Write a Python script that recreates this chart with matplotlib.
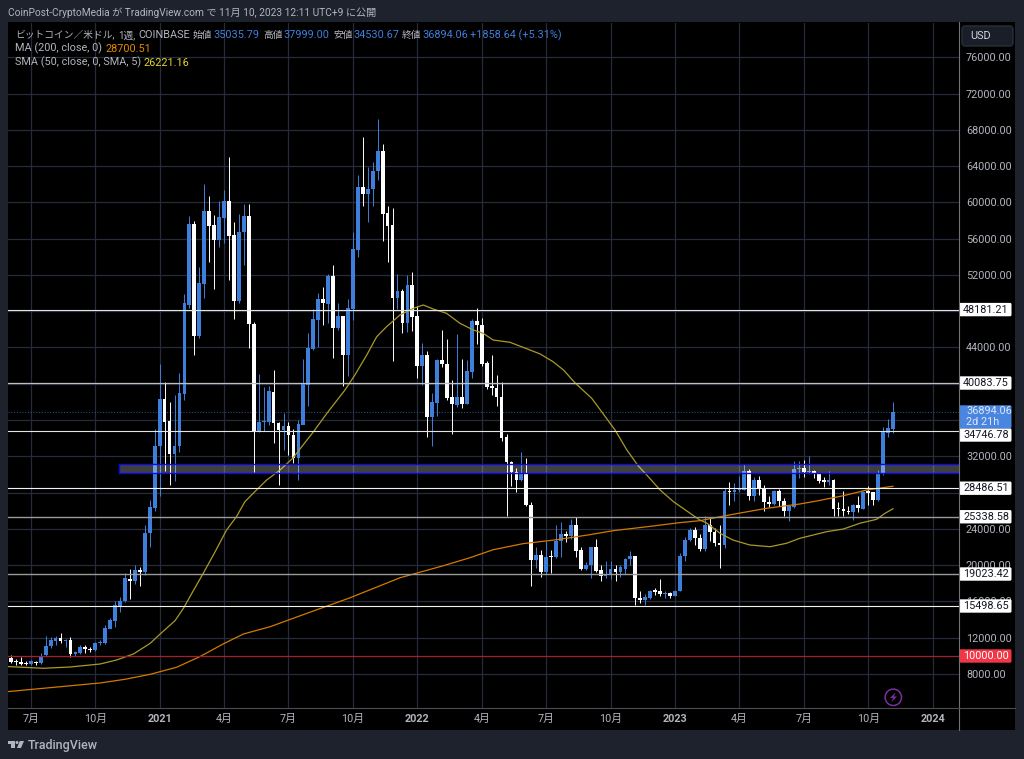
import numpy as np
import matplotlib
matplotlib.use('Agg')
import matplotlib.pyplot as plt
from matplotlib.patches import Rectangle, Polygon, Circle, FancyBboxPatch

plt.rcParams['font.family'] = ['Roboto', 'Noto Sans CJK JP', 'DejaVu Sans']

# weekly candles (week index 0 = Jun 8 2020)
opens = [9810, 9460, 9360, 9250, 9100, 9350, 9200, 10050, 11050, 11650,
         11950, 11650, 11750, 10250, 10320, 11000, 10800, 10650, 11400, 11450,
         13000, 13790, 15530, 16000, 18430, 18200, 19450, 19200, 23550, 26270,
         33100, 38280, 35900, 32300, 33120, 38860, 48660, 57650, 45240, 51000,
         59090, 57470, 55890, 58300, 60120, 56400, 49110, 56700, 58460, 46560,
         34770, 35800, 35810, 39100, 35690, 34850, 35320, 34330, 31790, 35470,
         39860, 43800, 47040, 49400, 48850, 51900, 46100, 47420, 43170, 48300,
         54710, 61670, 60950, 61450, 63430, 65640, 58830, 57470, 49510, 50180,
         46720, 50910, 47420, 41970, 43170, 36320, 37910, 42590, 42180, 38490,
         37690, 38490, 37760, 41340, 46930, 46490, 42260, 39750, 39570, 38570,
         34080, 31350, 30320, 29440, 30000, 26670, 20600, 21070, 19300, 20960,
         20850, 22620, 23440, 23170, 24390, 21620, 19570, 20010, 21960, 19420,
         18830, 19000, 19570, 19270, 19570, 20680, 21000, 16400, 16210, 16400,
         17250, 17140, 16830, 16950, 16620, 17140, 20960, 22730, 23840, 22990,
         21810, 24390, 23650, 22480, 22180, 28220, 28030, 28330, 28330, 30430,
         27670, 29360, 28530, 27010, 26760, 28150, 27120, 25930, 26420, 30620,
         30750, 30270, 30400, 30100, 29360, 29160, 29360, 26300, 26190, 25990,
         25850, 26670, 26230, 28150, 28040, 27170, 30100, 34600, 35035.79]
highs = [10100, 9700, 9840, 9400, 9500, 9450, 10300, 12200, 12100, 12150,
         12530, 11900, 12100, 10500, 11200, 11150, 10950, 11500, 11700, 13450,
         14200, 16050, 16540, 19150, 19600, 20000, 19850, 24450, 27230, 34960,
         42150, 40190, 37980, 38720, 41150, 49900, 58460, 58000, 52830, 62030,
         60740, 58600, 60190, 61370, 65020, 57800, 58720, 59820, 59820, 46820,
         41040, 39600, 39750, 41480, 35800, 36800, 35800, 35000, 36000, 42700,
         45570, 48220, 49960, 50620, 52050, 53080, 48960, 47500, 49400, 56700,
         63060, 67190, 63880, 64500, 69200, 66450, 59640, 59340, 52090, 50500,
         52000, 52280, 48600, 44540, 43620, 39000, 42780, 45940, 44900, 40380,
         45540, 42780, 42590, 47100, 48400, 47300, 42500, 43170, 40930, 40190,
         34410, 31500, 30730, 32500, 31840, 26970, 21950, 21620, 22620, 21700,
         24390, 24760, 23810, 25130, 25300, 22000, 20300, 22000, 22880, 19970,
         20410, 20490, 20040, 20040, 20750, 21510, 21050, 17100, 16840, 17250,
         17470, 18470, 17100, 17050, 17250, 21330, 23100, 24050, 24250, 23470,
         25380, 25300, 24100, 24460, 28530, 29140, 29070, 29800, 31100, 30620,
         29700, 29880, 28880, 27670, 28300, 28440, 27380, 26550, 31540, 31460,
         31650, 32020, 30450, 30150, 29700, 30360, 29500, 26950, 28220, 26490,
         26700, 27600, 28200, 28770, 28100, 30470, 35270, 36070, 37999.00]
lows = [9200, 8960, 8960, 8950, 9000, 9000, 9150, 9950, 10900, 11250,
        11450, 11000, 9870, 9950, 10200, 10280, 10450, 10500, 11150, 11350,
        13200, 13230, 14860, 15950, 16300, 17900, 17650, 18900, 21950, 25930,
        27670, 30350, 28880, 29250, 32450, 38200, 48400, 43140, 45000, 49500,
        53380, 50500, 55040, 55510, 51460, 47120, 48900, 53080, 43950, 30250,
        34700, 34770, 35400, 33490, 28880, 32750, 32200, 31280, 29440, 37800,
        37500, 43700, 44100, 46450, 46750, 42880, 45900, 39750, 40850, 47040,
        54000, 59640, 57870, 59640, 62480, 55770, 53450, 42500, 48200, 45650,
        45700, 45800, 40680, 39820, 34150, 33120, 36430, 41850, 38200, 34490,
        37470, 37280, 37800, 40600, 44350, 41950, 39380, 38720, 37540, 33730,
        25380, 28700, 28080, 29300, 26500, 17650, 19680, 18690, 19000, 19130,
        20750, 20850, 22550, 22880, 20850, 19500, 19450, 18570, 19300, 18200,
        18570, 18470, 18200, 18750, 19050, 20040, 15620, 15880, 15620, 16300,
        16730, 16620, 16360, 16430, 16560, 17100, 20490, 22620, 22250, 21510,
        21510, 22620, 22090, 19680, 21840, 26670, 27040, 28100, 28250, 27230,
        27040, 27780, 25930, 26420, 26600, 26490, 25460, 24830, 26300, 29640,
        29730, 30000, 29640, 29100, 28580, 28880, 25460, 25450, 25380, 25600,
        25000, 25820, 26150, 26670, 26670, 27100, 29950, 34150, 34530.67]
closes = [9330, 9300, 9140, 9110, 9400, 9200, 9950, 11100, 11700, 12000,
          11650, 11800, 10230, 10430, 11020, 10780, 10600, 11400, 11550, 13100,
          13900, 15580, 16030, 18540, 18210, 19450, 19200, 23500, 26380, 33190,
          38280, 35800, 32300, 33190, 38940, 48880, 57650, 45270, 51100, 59090,
          57430, 55890, 58360, 60190, 56320, 49140, 56760, 58460, 46560, 34770,
          35810, 35870, 39190, 35690, 34850, 35320, 34330, 31790, 35510, 39940,
          43910, 47120, 49400, 48880, 51900, 46100, 47420, 43170, 48410, 54850,
          61670, 60930, 61480, 63500, 65640, 58750, 57430, 49510, 50180, 46750,
          50910, 47370, 41970, 43170, 36320, 37980, 42590, 42150, 38420, 37720,
          38490, 37790, 41370, 46930, 46450, 42220, 39680, 39490, 38530, 34040,
          31350, 30320, 29440, 30000, 26600, 20600, 21070, 19300, 20890, 20850,
          22700, 23440, 23170, 24390, 21590, 19570, 20040, 21960, 19380, 18830,
          19050, 19570, 19270, 19750, 20710, 20960, 16360, 16210, 16510, 17200,
          17030, 16770, 16940, 16620, 17200, 21000, 22800, 23910, 22990, 21810,
          24390, 23610, 22440, 22250, 28220, 28030, 28330, 28440, 30430, 27670,
          29360, 28440, 26940, 26760, 28220, 27120, 25930, 26490, 30620, 30750,
          30270, 30400, 30180, 29250, 29160, 29360, 26190, 26190, 25930, 25880,
          26670, 26270, 28110, 27960, 27230, 30180, 34670, 35090, 36894.06]

sma_x = [-1, 6.5, 11.9, 18, 21.3, 24.7, 28.1, 30.1, 33.1, 34.8, 36.5, 38.8, 41.2, 43.5,
         45.5, 47.2, 49.2, 51.6, 54.3, 56.9, 61, 63.8, 67.4, 69.4, 71.8, 73.8, 75.8, 78.5,
         81.2, 83.2, 85.2, 87.9, 90.6, 93.3, 95.3, 97.3, 100.7, 103.7, 106.8, 109.4, 111.5,
         113.8, 117.2, 119.2, 121.9, 124.3, 126.6, 128.3, 131, 133.7, 136.4, 139, 140.4,
         143.1, 145.7, 149.1, 153.2, 156.5, 159.2, 164.6, 168, 171.3, 174.7, 176.4, 178]
sma_y = [8830, 8630, 8772, 9103, 9544, 10205, 11385, 12410, 13877, 15244, 16898, 19103, 21485, 23877,
         25344, 26998, 28100, 29390, 30493, 31816, 34683, 36778, 39314, 40967, 43173, 45190, 46293, 47583,
         48321, 48686, 48245, 47771, 46668, 45929, 45566, 44827, 44573, 43945, 43283, 42434, 41519,
         40119, 38398, 36921, 34903, 32698, 30934, 29942, 28288, 26998, 25972, 24980, 24649,
         23513, 22775, 22224, 22036, 22411, 22962, 23690, 23988, 24616, 25057, 25719, 26221.16]
ma_x = [-1, 18, 23, 28.1, 33.4, 38.1, 42.8, 46.9, 52.3, 58.3, 68.4, 78.5, 87.2, 92.6, 97.3, 103.3,
        110.2, 116.8, 121.5, 128.4, 135, 139, 145.7, 152.5, 159.2, 162.6, 168, 172.7, 178]
ma_y = [6040, 7010, 7416, 7967, 8739, 9908, 11308, 12410, 13215, 14410, 16400, 18610, 19930, 20820, 21700, 22370,
        22810, 23360, 23800, 24240, 24690, 24903, 25608, 26270, 26744, 27075, 27660, 28288, 28700.51]

level_prices = [48181.21, 40083.75, 34746.78, 28486.51, 25338.58, 19023.42, 15498.65]
level_colors = ['#e4e4e4', '#c0c0c0', '#e4e4e4', '#f2f2f2', '#9a9a9a', '#9a9a9a', '#f2f2f2']
level_widths = [0.8, 0.9, 0.8, 0.8, 1.0, 1.0, 0.8]
label_prices = [48181.21, 40083.75, 34352, 28486.51, 25338.58, 19023.42, 15498.65]
price_ticks = list(range(8000, 80000, 4000))
covered_ticks = [28000, 36000, 40000, 48000]  # hidden behind the price boxes
time_ticks = [4, 17, 30, 43, 56, 69, 82, 95, 108, 121, 134, 147, 160, 173, 186]
time_labels = ['7月', '10月', '2021', '4月', '7月', '10月', '2022', '4月', '7月', '10月',
               '2023', '4月', '7月', '10月', '2024']

W, H = 1024, 759
BG = '#1e222d'
UP = '#3f7fdc'
DOWN = '#ffffff'
TXT = '#b2b5be'
GRID = '#262a3a'
FS = 7.8
FS_JP = 7

fig = plt.figure(figsize=(W / 100, H / 100), dpi=100, facecolor=BG)


def px_axes(zorder):
    a = fig.add_axes([0, 0, 1, 1], zorder=zorder)
    a.set_xlim(0, W)
    a.set_ylim(H, 0)
    a.axis('off')
    return a


back = px_axes(0)
back.add_patch(Rectangle((8, 22), 1007, 708, fc='black', ec='none'))

# main chart, bars are 4.955 px apart and 4000 USD is 36.27 px
L, R, T, B = 8, 959, 23, 708
ax = fig.add_axes([L / W, 1 - B / H, (R - L) / W, (B - T) / H], zorder=1)
ax.patch.set_alpha(0)
ax.set_xlim((L - 11) / 4.955, (R - 11) / 4.955)
ax.set_ylim(8000 + (674 - B) * 110.26, 8000 + (674 - T) * 110.26)
for s in ax.spines.values():
    s.set_visible(False)

ax.set_yticks(price_ticks, ['' if p in covered_ticks else f'{p:.2f}' for p in price_ticks])
ax.yaxis.tick_right()
ax.set_xticks(time_ticks, time_labels)
ax.tick_params(length=0, colors=TXT, labelsize=FS)
ax.tick_params(axis='y', pad=5)
ax.tick_params(axis='x', pad=4)
for lab, txt in zip(ax.get_xticklabels(), time_labels):
    if txt.startswith('20'):
        lab.set_fontweight('bold')
ax.grid(color=GRID, lw=0.9)
ax.set_axisbelow(True)

idx = np.arange(len(opens))
o, h, l, c = map(np.array, (opens, highs, lows, closes))
up = c >= o
cols = np.where(up, UP, DOWN)
ax.vlines(idx, l, h, colors=cols, lw=0.7, zorder=3)
ax.bar(idx, np.abs(c - o), bottom=np.minimum(o, c), width=0.76, color=cols, lw=0, zorder=3.1)

ax.plot(ma_x, ma_y, color='#d27a00', lw=0.9, zorder=4)
ax.plot(sma_x, sma_y, color='#a89a28', lw=0.9, zorder=4)

ax.axhline(closes[-1], color='#2b4d86', lw=0.8, ls=(0, (1, 1.5)), zorder=2)
for p, col, w in zip(level_prices, level_colors, level_widths):
    ax.axhline(p, color=col, lw=w, zorder=5)
ax.axhline(10000, color='#a3202c', lw=0.9, zorder=5)

# support band
band_x = (119 - 11) / 4.955
ax.fill_between([band_x, ax.get_xlim()[1]], 30155, 31150, color='white', alpha=0.25, lw=0, zorder=5)
ax.plot([band_x, ax.get_xlim()[1]], [31150, 31150], color='#0a0ae6', lw=1, zorder=5.1)
ax.plot([band_x, ax.get_xlim()[1]], [30155, 30155], color='#0a0ae6', lw=1, zorder=5.1)
ax.plot([band_x, band_x], [30155, 31150], color='#0a0ae6', lw=1, zorder=5.1)

# everything drawn over the axis labels
ui = px_axes(2)
ui.plot([R, R], [22, 730], color='#6f7279', lw=0.8)
ui.plot([8, 1015], [708, 708], color='#4a4c52', lw=0.8)


def y_px(price):
    return 674 - (price - 8000) / 110.26


for p in label_prices:
    y = y_px(p)
    ui.add_patch(FancyBboxPatch((R, y - 6.7), 52.5, 13.4, boxstyle='round,pad=0,rounding_size=1.5', fc='white', ec='none'))
    ui.text(986, y, f'{p if p != 34352 else 34746.78:.2f}', color='#131722', fontsize=FS, ha='center', va='center')
ui.add_patch(FancyBboxPatch((R, 405.3), 52.5, 23, boxstyle='round,pad=0,rounding_size=1.5', fc='#4a86e0', ec='none'))
ui.text(966, 411.5, f'{closes[-1]:.2f}', color='#dbe6f8', fontsize=FS, va='center')
ui.text(966, 422, '2d 21h', color='#dbe6f8', fontsize=FS, va='center')
ui.add_patch(FancyBboxPatch((R, 649.3), 52.5, 13.4, boxstyle='round,pad=0,rounding_size=1.5', fc='#f23645', ec='none'))
ui.text(986, 656, '10000.00', color='white', fontsize=FS, ha='center', va='center')

ui.add_patch(FancyBboxPatch((962, 26), 51, 20, boxstyle='round,pad=0,rounding_size=3', fc='#1a1e29', ec='#2a2e39', lw=1))
ui.text(970, 36, 'USD', color='#d1d4dc', fontsize=FS, va='center')

ui.text(8, 12.5, 'CoinPost-CryptoMedia が TradingView.com で 11月 10, 2023 12:11 UTC+9 に公開', color=TXT, fontsize=7.3, va='center')
ui.text(15, 35, 'ビットコイン／米ドル,', color=TXT, fontsize=FS_JP, va='center')
ui.text(118, 35, '1週,', color=TXT, fontsize=FS_JP, va='center')
ui.text(138, 35, 'COINBASE', color=TXT, fontsize=FS, va='center')
vals = [(193, '始値', 213, '35035.79'), (263, '高値', 283, '37999.00'), (333, '安値', 353, '34530.67'), (402, '終値', 422, '36894.06')]
for x1, name, x2, v in vals:
    ui.text(x1, 35, name, color=TXT, fontsize=FS_JP, va='center')
    ui.text(x2, 35, v, color=UP, fontsize=FS, va='center')
ui.text(470, 35, '+1858.64 (+5.31%)', color=UP, fontsize=FS, va='center')
ui.text(15, 48.5, 'MA (200, close, 0)', color=TXT, fontsize=FS, va='center')
ui.text(106, 48.5, '28700.51', color='#e08a00', fontsize=FS, va='center')
ui.text(15, 62.5, 'SMA (50, close, 0, SMA, 5)', color=TXT, fontsize=FS, va='center')
ui.text(144, 62.5, '26221.16', color='#e3d62c', fontsize=FS, va='center')

# lightning button
ui.add_patch(Circle((893.3, 697.3), 8.2, fc='none', ec='#7b2f9e', lw=1.1))
ui.add_patch(Polygon([(895.5, 692.5), (890, 698), (893, 698), (891.5, 702), (897, 696.5), (894, 696.5)], fc='#7b2f9e', ec='none'))

# logo
LOGO = '#b2b5be'
ui.add_patch(Polygon([(8, 741), (14.5, 741), (14.5, 748), (11, 748), (11, 744), (8, 744)], fc=LOGO, ec='none'))
ui.add_patch(Circle((17, 742.5), 1.5, fc=LOGO, ec='none'))
ui.add_patch(Polygon([(19.8, 741), (24, 741), (21, 748), (17, 748)], fc=LOGO, ec='none'))
ui.text(27.5, 745, 'TradingView', color=LOGO, fontsize=9, fontweight='medium', va='center')

fig.savefig('out.png', dpi=100, facecolor=BG)
